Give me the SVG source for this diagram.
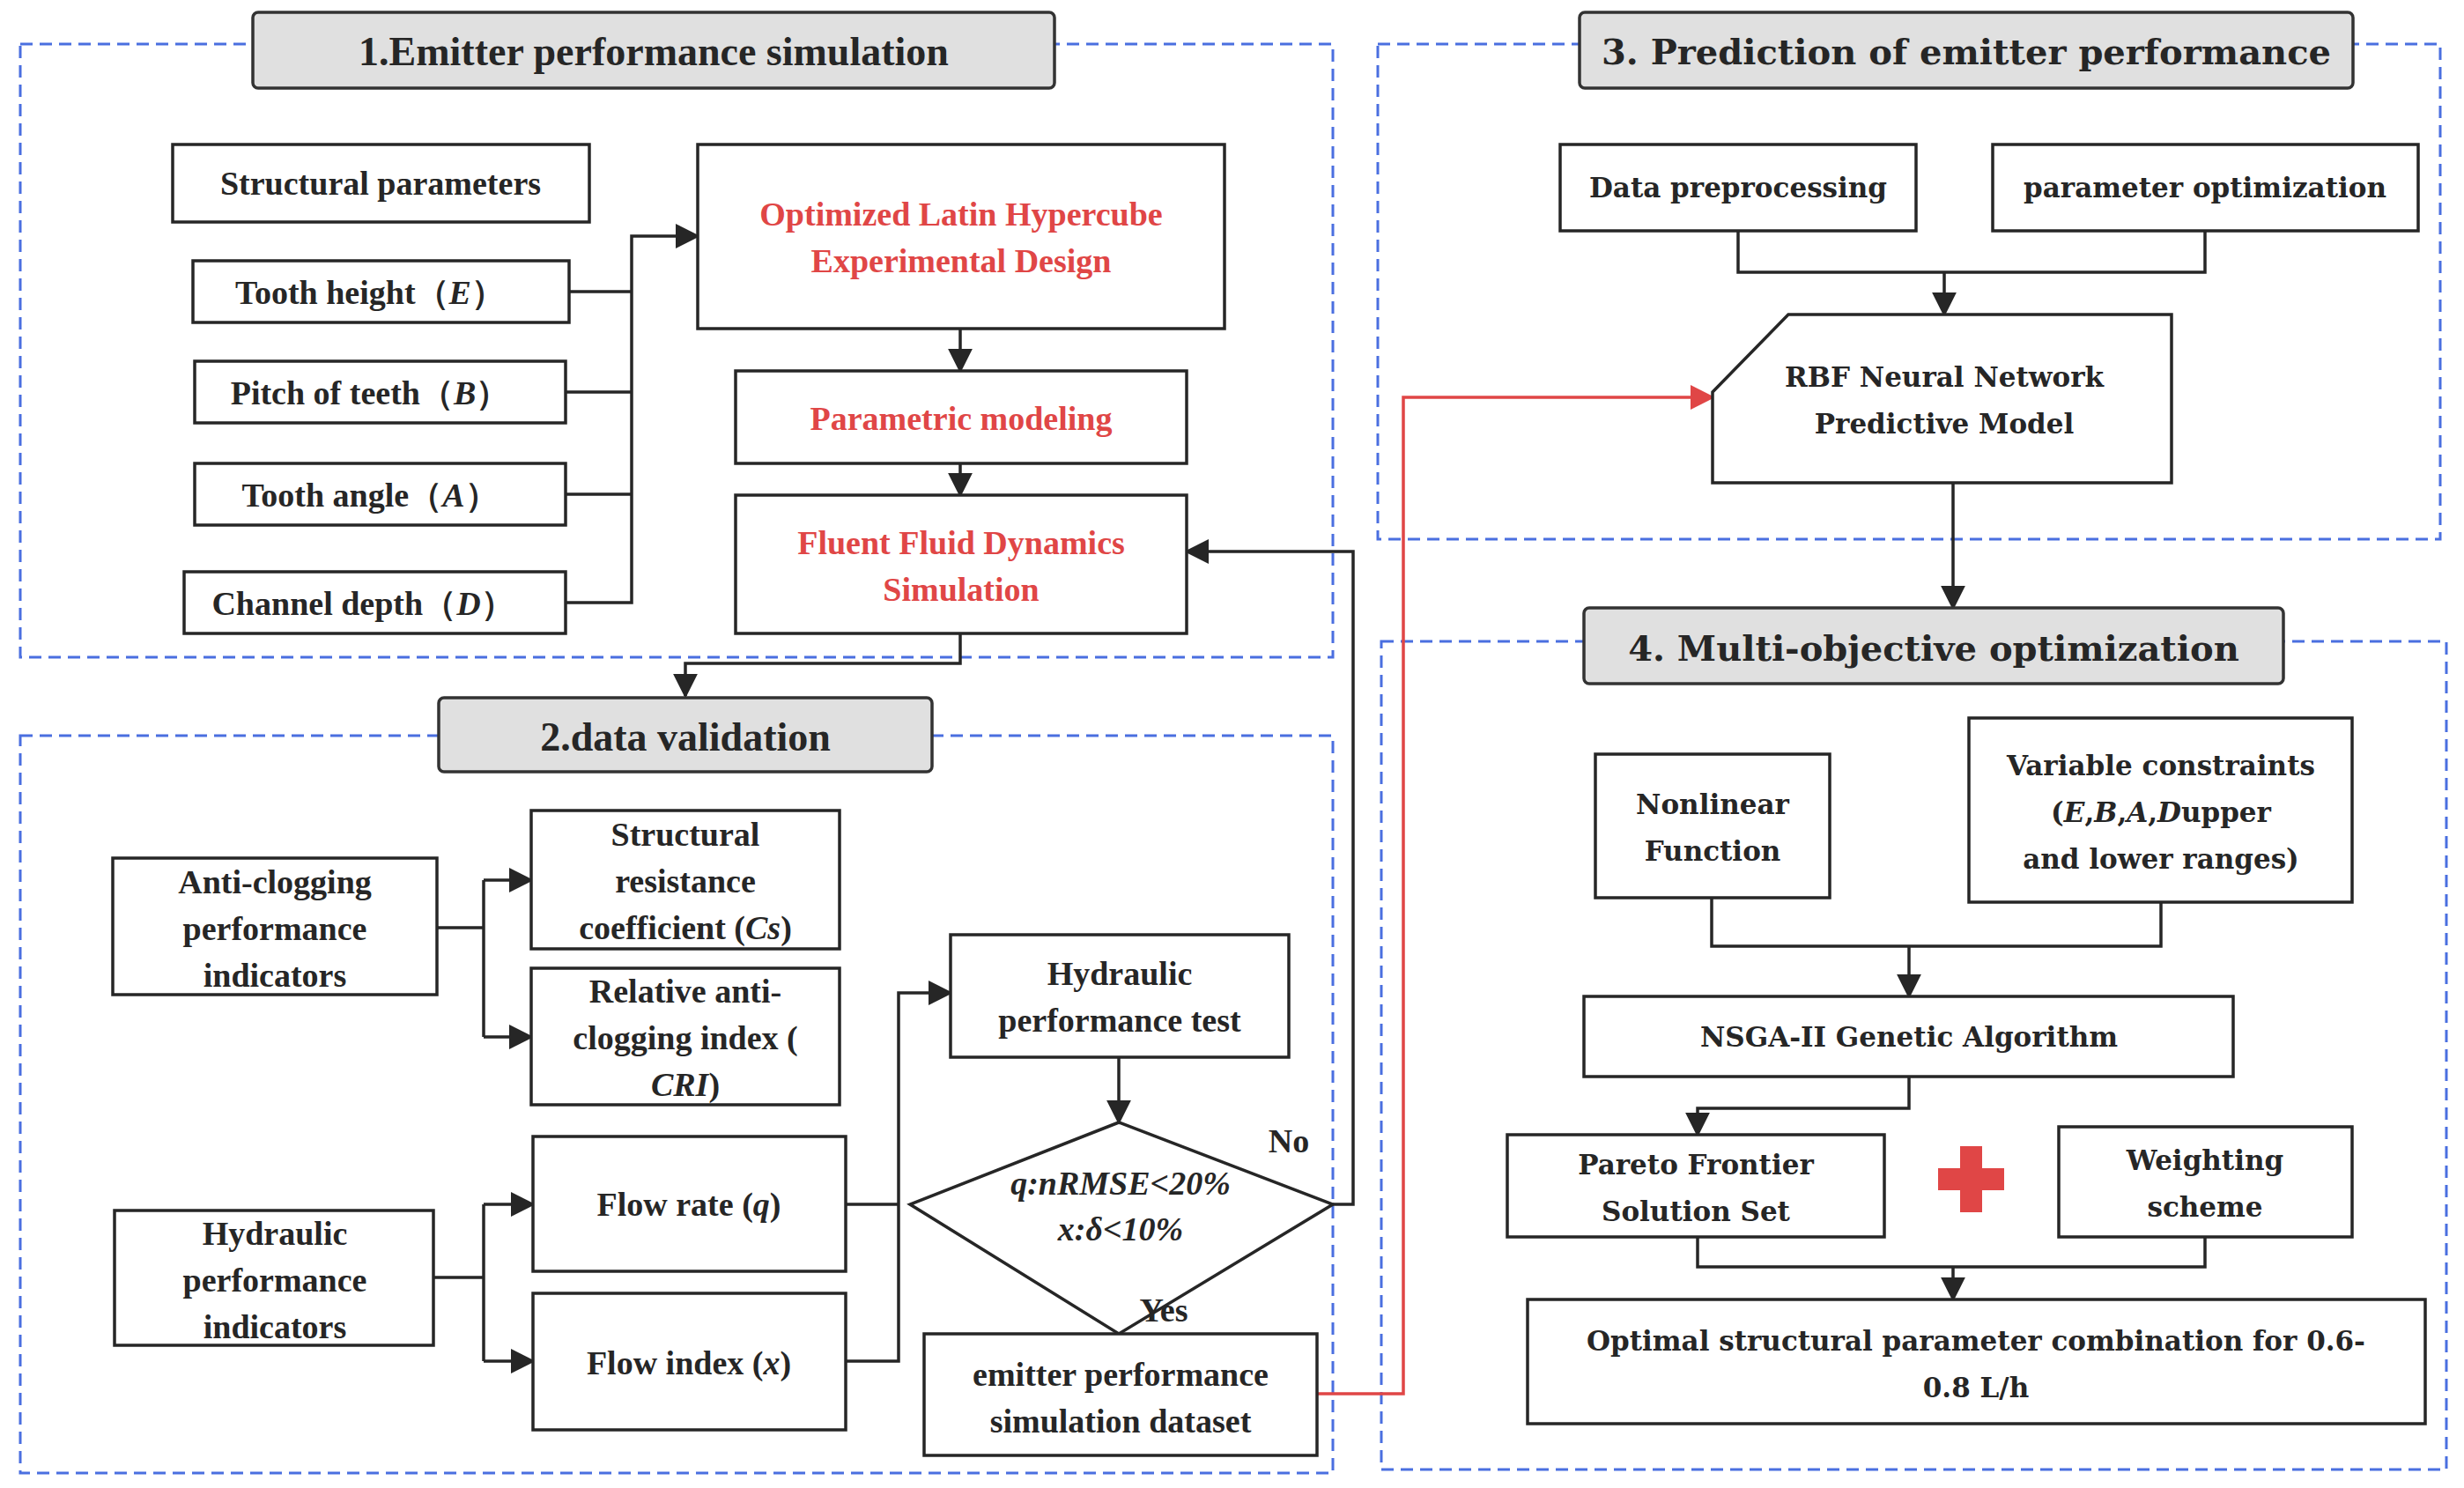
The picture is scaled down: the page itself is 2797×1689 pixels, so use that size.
<svg xmlns="http://www.w3.org/2000/svg" width="2797" height="1689" viewBox="0 0 2797 1689">
<style>
.sec{fill:none;stroke:#4a6fe0;stroke-width:3;stroke-dasharray:14 8}
.ttl{fill:#e0e0e0;stroke:#333;stroke-width:3.5}
.box{fill:#fff;stroke:#262626;stroke-width:3.5}
.ln{fill:none;stroke:#262626;stroke-width:3.5}
.red{fill:none;stroke:#e04646;stroke-width:3.5}
.t{font-family:"Liberation Serif",serif;font-weight:bold;font-size:38px;fill:#262626;text-anchor:middle}
.tr{fill:#e04646}
.th{font-size:46px}
.d{font-family:"DejaVu Serif",serif;font-weight:bold;font-size:31px;fill:#262626;text-anchor:middle}
.dh{font-size:40px}
</style>
<defs>
<marker id="a" viewBox="0 0 10 10" refX="9" refY="5" markerWidth="6" markerHeight="6" orient="auto" markerUnits="userSpaceOnUse"><path d="M0,0L10,5L0,10z" fill="#262626"/></marker>
<marker id="ab" viewBox="0 0 10 10" refX="9" refY="5" markerWidth="8" markerHeight="8" orient="auto"><path d="M0,0L10,5L0,10z" fill="#262626"/></marker>
<marker id="ar" viewBox="0 0 10 10" refX="9" refY="5" markerWidth="8" markerHeight="8" orient="auto"><path d="M0,0L10,5L0,10z" fill="#e04646"/></marker>
</defs>
<rect class="sec" x="23" y="50" width="1490" height="696"/>
<rect class="sec" x="23" y="835" width="1490" height="837"/>
<rect class="sec" x="1564" y="50" width="1206" height="562"/>
<rect class="sec" x="1568" y="728" width="1209" height="940"/>
<g id="connectors">
<path class="ln" d="M646,331H717M642,445H717M642,561H717M642,684H717V268H792" marker-end="url(#ab)"/>
<path class="ln" d="M1090,373V421" marker-end="url(#ab)"/>
<path class="ln" d="M1090,526V562" marker-end="url(#ab)"/>
<path class="ln" d="M1090,719V753H778V790" marker-end="url(#ab)"/>
<path class="ln" d="M496,1053H549M549,999V1177"/>
<path class="ln" d="M549,999H603" marker-end="url(#ab)"/>
<path class="ln" d="M549,1177H603" marker-end="url(#ab)"/>
<path class="ln" d="M492,1450H549M549,1367V1545"/>
<path class="ln" d="M549,1367H605" marker-end="url(#ab)"/>
<path class="ln" d="M549,1545H605" marker-end="url(#ab)"/>
<path class="ln" d="M960,1367H1020M960,1545H1020V1127H1079" marker-end="url(#ab)"/>
<path class="ln" d="M1270,1200V1274" marker-end="url(#ab)"/>
<path class="ln" d="M1513,1367H1536V626H1347" marker-end="url(#ab)"/>
<path class="ln" d="M1270,1514V1514" />
<path class="ln" d="M1272,1514V1514"/>
<path class="red" d="M1495,1582H1593V451H1944" marker-end="url(#ar)"/>
<path class="ln" d="M1973,262V309H2503V262M2207,309V357" marker-end="url(#ab)"/>
<path class="ln" d="M2217,548V690" marker-end="url(#ab)"/>
<path class="ln" d="M1943,1019V1074H2453V1024M2167,1074V1131" marker-end="url(#ab)"/>
<path class="ln" d="M2167,1222V1258H1927V1288" marker-end="url(#ab)"/>
<path class="ln" d="M1927,1404V1438H2503V1404M2217,1438V1475" marker-end="url(#ab)"/>
</g>
<g id="title1"><rect class="ttl" x="287" y="14" width="910" height="86" rx="6"/><text class="t th" x="742" y="74">1.Emitter performance simulation</text></g>
<g id="structural"><rect class="box" x="196" y="164" width="473" height="88"/><text class="t" x="432" y="221">Structural parameters</text></g>
<g id="toothh"><rect class="box" x="219" y="296" width="427" height="70"/><text class="t" x="420" y="345">Tooth height（<tspan font-style="italic">E</tspan>）</text></g>
<g id="pitch"><rect class="box" x="221" y="410" width="421" height="70"/><text class="t" x="420" y="459">Pitch of teeth（<tspan font-style="italic">B</tspan>）</text></g>
<g id="angle"><rect class="box" x="221" y="526" width="421" height="70"/><text class="t" x="420" y="575">Tooth angle（<tspan font-style="italic">A</tspan>）</text></g>
<g id="depth"><rect class="box" x="209" y="649" width="433" height="70"/><text class="t" x="412" y="698">Channel depth（<tspan font-style="italic">D</tspan>）</text></g>
<g id="olhd"><rect class="box" x="792" y="164" width="598" height="209"/><text class="t tr" x="1091" y="256">Optimized Latin Hypercube</text><text class="t tr" x="1091" y="309">Experimental Design</text></g>
<g id="param"><rect class="box" x="835" y="421" width="512" height="105"/><text class="t tr" x="1091" y="488">Parametric modeling</text></g>
<g id="fluent"><rect class="box" x="835" y="562" width="512" height="157"/><text class="t tr" x="1091" y="629">Fluent Fluid Dynamics</text><text class="t tr" x="1091" y="682">Simulation</text></g>
<g id="title2"><rect class="ttl" x="498" y="792" width="560" height="84" rx="6"/><text class="t th" x="778" y="852">2.data validation</text></g>
<g id="anti"><rect class="box" x="128" y="974" width="368" height="155"/><text class="t" x="312" y="1014">Anti-clogging</text><text class="t" x="312" y="1067">performance</text><text class="t" x="312" y="1120">indicators</text></g>
<g id="cs"><rect class="box" x="603" y="920" width="350" height="157"/><text class="t" x="778" y="960">Structural</text><text class="t" x="778" y="1013">resistance</text><text class="t" x="778" y="1066">coefficient (<tspan font-style="italic">Cs</tspan>)</text></g>
<g id="cri"><rect class="box" x="603" y="1099" width="350" height="155"/><text class="t" x="778" y="1138">Relative anti-</text><text class="t" x="778" y="1191">clogging index (</text><text class="t" x="778" y="1244"><tspan font-style="italic">CRI</tspan>)</text></g>
<g id="hydind"><rect class="box" x="130" y="1374" width="362" height="153"/><text class="t" x="312" y="1413">Hydraulic</text><text class="t" x="312" y="1466">performance</text><text class="t" x="312" y="1519">indicators</text></g>
<g id="flowrate"><rect class="box" x="605" y="1290" width="355" height="153"/><text class="t" x="782" y="1380">Flow rate (<tspan font-style="italic">q</tspan>)</text></g>
<g id="flowindex"><rect class="box" x="605" y="1468" width="355" height="155"/><text class="t" x="782" y="1560">Flow index (<tspan font-style="italic">x</tspan>)</text></g>
<g id="hydtest"><rect class="box" x="1079" y="1061" width="384" height="139"/><text class="t" x="1271" y="1118">Hydraulic</text><text class="t" x="1271" y="1171">performance test</text></g>
<g id="diamond"><path class="box" d="M1270,1274L1513,1367L1270,1514L1033,1367Z"/><text class="t" x="1272" y="1356" font-style="italic">q:nRMSE&lt;20%</text><text class="t" x="1272" y="1408" font-style="italic">x:δ&lt;10%</text><text class="t" x="1463" y="1308">No</text><text class="t" x="1321" y="1500">Yes</text></g>
<path class="ln" d="M1270,1514V1514"/>
<g id="yesarrow"><path class="ln" d="M1270,1514V1514"/></g>
<g id="dataset"><rect class="box" x="1049" y="1514" width="446" height="138"/><text class="t" x="1272" y="1573">emitter performance</text><text class="t" x="1272" y="1626">simulation dataset</text></g>
<g id="title3"><rect class="ttl" x="1793" y="14" width="878" height="86" rx="6"/><text class="d dh" x="2232" y="73">3. Prediction of emitter performance</text></g>
<g id="prep"><rect class="box" x="1771" y="164" width="404" height="98"/><text class="d" x="1973" y="224">Data preprocessing</text></g>
<g id="popt"><rect class="box" x="2262" y="164" width="483" height="98"/><text class="d" x="2503" y="224">parameter optimization</text></g>
<g id="rbf"><path class="box" d="M2030,357H2465V548H1944V445Z"/><text class="d" x="2207" y="439">RBF Neural Network</text><text class="d" x="2207" y="492">Predictive Model</text></g>
<g id="title4"><rect class="ttl" x="1798" y="690" width="794" height="86" rx="6"/><text class="d dh" x="2195" y="750">4. Multi-objective optimization</text></g>
<g id="nonlin"><rect class="box" x="1811" y="856" width="266" height="163"/><text class="d" x="1944" y="924">Nonlinear</text><text class="d" x="1944" y="977">Function</text></g>
<g id="varc"><rect class="box" x="2235" y="815" width="435" height="209"/><text class="d" x="2453" y="880">Variable constraints</text><text class="d" x="2453" y="933">(<tspan font-style="italic">E</tspan>,<tspan font-style="italic">B</tspan>,<tspan font-style="italic">A</tspan>,<tspan font-style="italic">D</tspan>upper</text><text class="d" x="2453" y="986">and lower ranges)</text></g>
<g id="nsga"><rect class="box" x="1798" y="1131" width="737" height="91"/><text class="d tr" x="2167" y="1188">NSGA-II Genetic Algorithm</text></g>
<g id="pareto"><rect class="box" x="1711" y="1288" width="428" height="116"/><text class="d" x="1925" y="1333">Pareto Frontier</text><text class="d" x="1925" y="1386">Solution Set</text></g>
<g id="plus"><rect x="2200" y="1326" width="75" height="25" fill="#e04646"/><rect x="2225" y="1301" width="25" height="75" fill="#e04646"/></g>
<g id="weight"><rect class="box" x="2337" y="1279" width="333" height="125"/><text class="d" x="2503" y="1328">Weighting</text><text class="d" x="2503" y="1381">scheme</text></g>
<g id="opt"><rect class="box" x="1734" y="1475" width="1019" height="141"/><text class="d" x="2243" y="1533">Optimal structural parameter combination for 0.6-</text><text class="d" x="2243" y="1586">0.8 L/h</text></g>
</svg>
